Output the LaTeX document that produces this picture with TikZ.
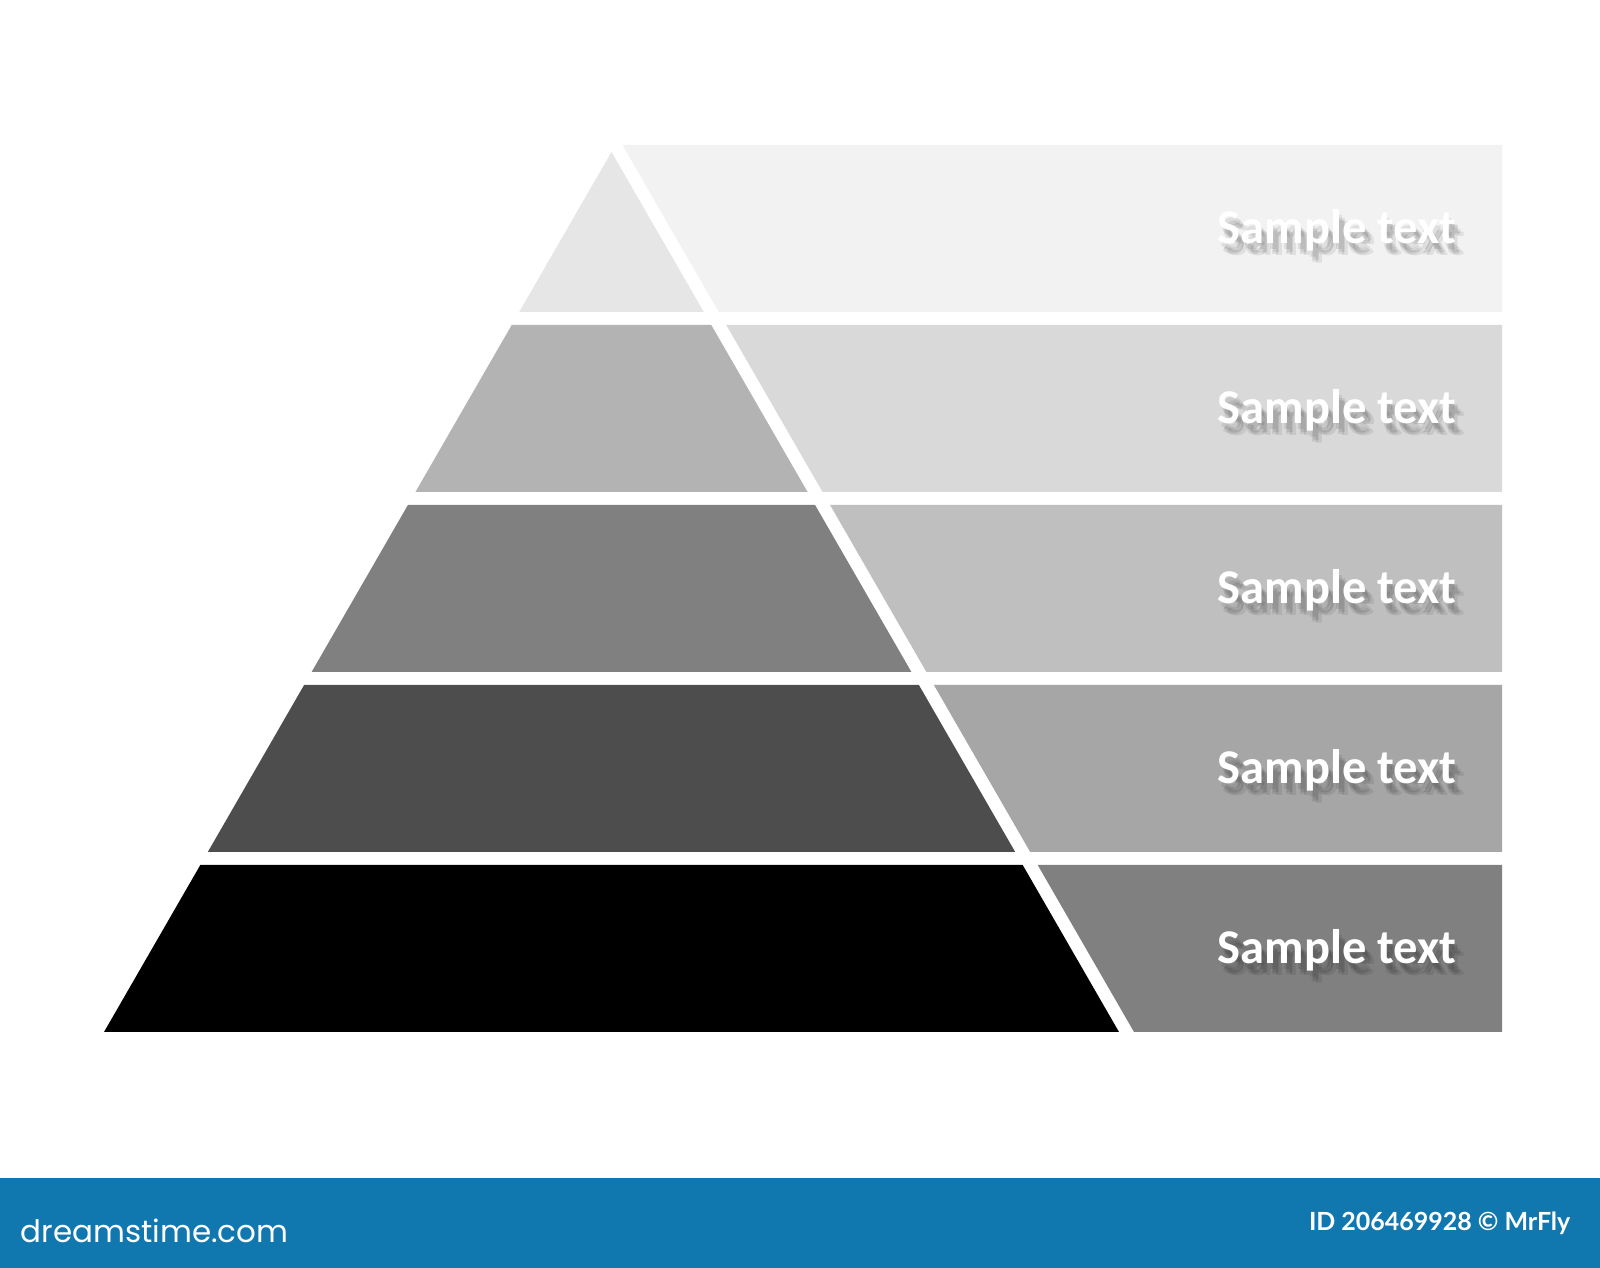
\documentclass[tikz,border=0pt]{standalone}
\usepackage{fontspec}
\newfontfamily\labelfont{Carlito}
\newfontfamily\logofont{Poppins}
\newfontfamily\idfont{Lato}
\definecolor{pyr1}{HTML}{E6E6E6}
\definecolor{pyr2}{HTML}{B3B3B3}
\definecolor{pyr3}{HTML}{808080}
\definecolor{pyr4}{HTML}{4D4D4D}
\definecolor{pyr5}{HTML}{000000}
\definecolor{box1}{HTML}{F2F2F2}
\definecolor{box2}{HTML}{D9D9D9}
\definecolor{box3}{HTML}{BFBFBF}
\definecolor{box4}{HTML}{A6A6A6}
\definecolor{box5}{HTML}{808080}
\definecolor{barblue}{HTML}{1177AF}
\tikzset{
  sampletext/.style={font=\labelfont\bfseries\fontsize{13.8pt}{15pt}\selectfont, text=white, inner sep=0pt, anchor=base},
  sampleshadow/.style={sampletext, text=black, opacity=0.08},
  footertext/.style={text=white, inner sep=0pt}
}
\begin{document}
\begin{tikzpicture}[x=0.01cm,y=-0.01cm]
\useasboundingbox (0,0) rectangle (1600,1268);
\fill[white] (0,0) rectangle (1600,1268);
\foreach \i in {1,...,5}{
  \pgfmathsetmacro\t{145+180*(\i-1)}
  \pgfmathsetmacro\b{\t+167}
  \pgfmathsetmacro\tp{max(\t,152)}
  \pgfmathsetmacro\xlt{611.5-0.5767*(\tp-152)}
  \pgfmathsetmacro\xrt{611.5+0.5767*(\tp-152)}
  \pgfmathsetmacro\xlb{611.5-0.5767*(\b-152)}
  \pgfmathsetmacro\xrb{611.5+0.5767*(\b-152)}
  \pgfmathsetmacro\rlt{626.5+0.5767*(\t-152)}
  \pgfmathsetmacro\rlb{626.5+0.5767*(\b-152)}
  \pgfmathsetmacro\ty{\t+83.5+15}
  % pyramid band
  \fill[pyr\i] (\xlt,\tp) -- (\xrt,\tp) -- (\xrb,\b) -- (\xlb,\b) -- cycle;
  % right box
  \fill[box\i] (\rlt,\t) -- (1502,\t) -- (1502,\b) -- (\rlb,\b) -- cycle;
  % soft text shadow
  \foreach \dx/\dy in {3/6,6/9,9/12,5/11}{
    \node[sampleshadow] (sh\i-\dx-\dy) at (1337+\dx,\ty+\dy) {Sample text};
  }
  \node[sampletext] (txt\i) at (1337,\ty) {Sample text};
}
% footer bar
\fill[barblue] (0,1178) rectangle (1600,1268);
\node[footertext, anchor=base west, font=\logofont\fontsize{8.8pt}{10pt}\selectfont] (logo) at (20,1242) {dreamstime.com};
\node[footertext, anchor=base east, font=\idfont\bfseries\fontsize{7.1pt}{8pt}\selectfont] (idtext) at (1571,1231) {ID 206469928 © MrFly};
\end{tikzpicture}
\end{document}
